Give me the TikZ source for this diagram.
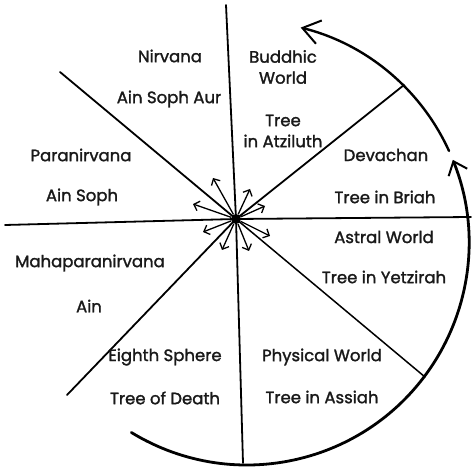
\documentclass[tikz,border=0pt]{standalone}
\usepackage{fontspec}
\setmainfont{Poppins}
\newfontfamily\labfont{Poppins}[FakeBold=1.6]
\usetikzlibrary{arrows.meta,calc}
\begin{document}
\begin{tikzpicture}[x=1pt,y=1pt,
  lab/.style={font=\labfont\fontsize{16.5}{21}\selectfont, text=black!90, align=center, inner sep=0pt},
  spoke/.style={line width=1.8pt, line cap=round},
  ray/.style={line width=1.3pt, -{Straight Barb[length=5pt,width=10pt,line width=1.3pt]}},
  bigarc/.style={line width=2.8pt, line cap=round}]
\useasboundingbox (0,0) rectangle (474,466);
% centre
\node[circle, fill=black, minimum size=10pt, inner sep=0pt] (c) at (236,247) {};
% spoke ends
\coordinate (top) at (226,461);
\coordinate (bot) at (243,3);
\coordinate (lft) at (5,241);
\coordinate (rgt) at (471,249);
\coordinate (ul) at (60,394);
\coordinate (ur) at (404,381);
\coordinate (ll) at (67,71);
\coordinate (lr) at (425,89);
\draw[spoke] (c.center) -- (top);
\draw[spoke] (c.center) -- (bot);
\draw[spoke] (c.center) -- (lft);
\draw[spoke] (c.center) -- (rgt);
\draw[spoke] (c.center) -- (ul);
\draw[spoke] (c.center) -- (ur);
\draw[spoke] (c.center) -- (ll);
\draw[spoke, line width=1.5pt] (c.center) -- (lr);
% small rays
\coordinate (r1) at (213,288);
\coordinate (r2) at (250,277);
\coordinate (r3) at (193,262);
\coordinate (r4) at (265,260);
\coordinate (r5) at (203,234);
\coordinate (r6) at (270,230);
\coordinate (r7) at (222,216);
\coordinate (r8) at (249,215);
\foreach \r in {r1,r2,r3,r4,r5,r6,r7,r8} \draw[ray] (c) -- (\r);
% big arcs
\coordinate (O) at (247,223);
\draw[bigarc, -{Straight Barb[length=12pt,width=20pt,line width=2pt]}]
  ($(O)+(-121.4:222)$) arc[start angle=-121.4, end angle=22, radius=222];
\draw[bigarc, line width=2.4pt, -{Straight Barb[length=17pt,width=24pt,line width=2pt]}]
  ($(O)+(24.5:222)$) arc[start angle=24.5, end angle=76, radius=222];
% labels
\node[lab] (n1) at (170,410) {Nirvana};
\node[lab] (n2) at (169,367) {Ain Soph Aur};
\node[lab] (n3) at (283,399) {Buddhic\\World};
\node[lab] (n4) at (283,335) {Tree\\in Atziluth};
\node[lab] (n5) at (81,311) {Paranirvana};
\node[lab] (n6) at (82,269) {Ain Soph};
\node[lab] (n7) at (386,311) {Devachan};
\node[lab] (n8) at (385,269) {Tree in Briah};
\node[lab] (n9) at (384,229) {Astral World};
\node[lab] (n10) at (384,189) {Tree in Yetzirah};
\node[lab] (n11) at (90,203) {Mahaparanirvana};
\node[lab] (n12) at (89,160) {Ain};
\node[lab] (n13) at (165,109) {Eighth Sphere};
\node[lab] (n14) at (165,68) {Tree of Death};
\node[lab] (n15) at (322,109) {Physical World};
\node[lab] (n16) at (322,69) {Tree in Assiah};
\end{tikzpicture}
\end{document}
